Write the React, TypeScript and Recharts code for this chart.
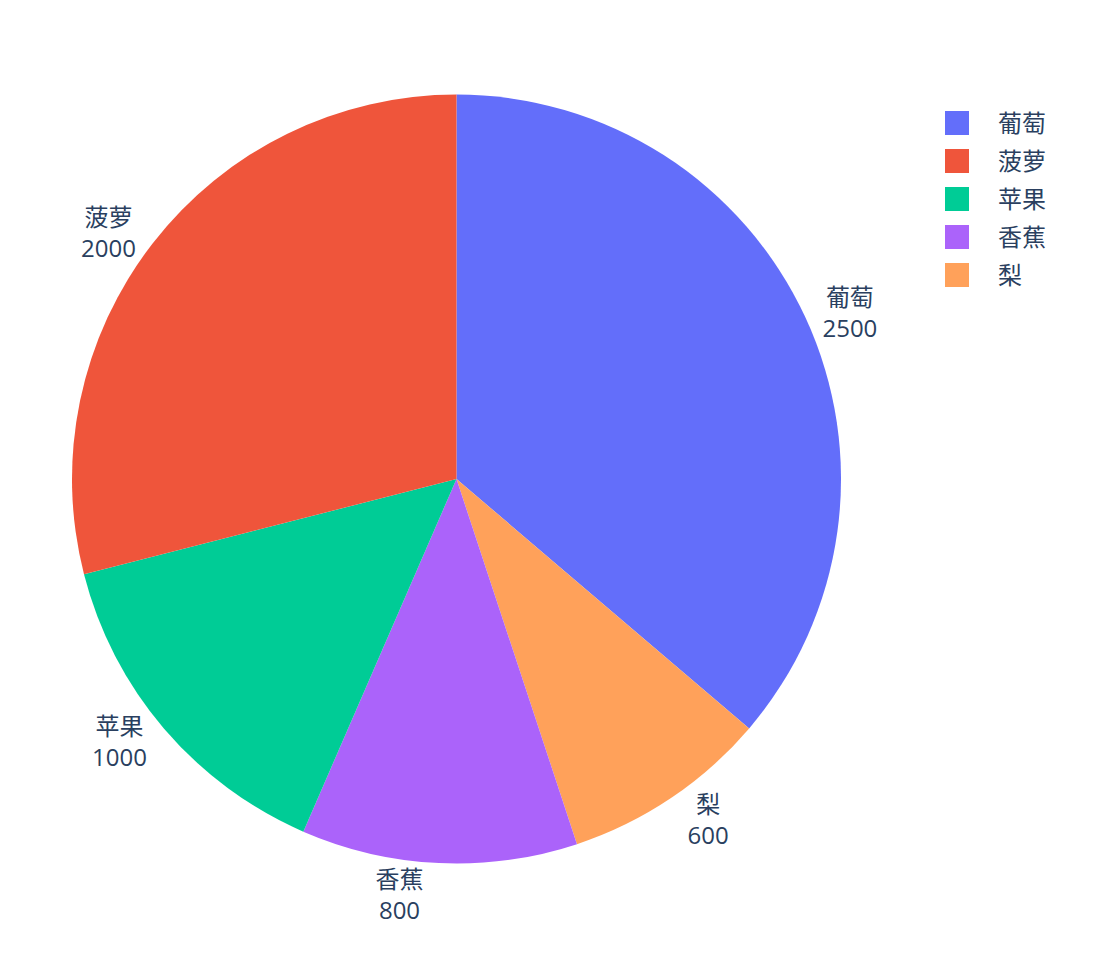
import React from 'react';
import { PieChart, Pie, Cell, Legend } from 'recharts';

// 数据（顺时针，从 12 点钟方向开始）
const fruitNames = ['葡萄', '梨', '香蕉', '苹果', '菠萝'];
const fruitValues = [2500, 600, 800, 1000, 2000];
const fruitColors = ['#636EFA', '#FFA15A', '#AB63FA', '#00CC96', '#EF553B'];

// 图例顺序（按数值降序）
const legendOrder = ['葡萄', '菠萝', '苹果', '香蕉', '梨'];

const pieData = fruitNames.map((name, i) => ({ name, value: fruitValues[i], color: fruitColors[i] }));

const FONT = '"Open Sans", "Noto Sans CJK SC", sans-serif';
const FONT_SIZE = 24;
const LINE_H = 31;
const TEXT_COLOR = '#2a3f5f';
const RADIAN = Math.PI / 180;

const textWidth = (s: string) =>
  s.split('').reduce((w, ch) => w + (/[0-9]/.test(ch) ? 0.6 : 1) * FONT_SIZE, 0);

// plotly 风格的外部标签位置
const renderLabel = (props: any) => {
  const { cx, cy, midAngle, outerRadius, name, value } = props;
  const px = outerRadius * Math.cos(-midAngle * RADIAN);
  const py = outerRadius * Math.sin(-midAngle * RADIAN);
  const w = Math.max(textWidth(String(name)), textWidth(String(value)));
  const h = LINE_H * 2;
  let dx = w / 2;
  let dy = h / 2;
  if (px < 0) dx *= -1;
  if (py < 0) dy *= -1;
  const ox = dx + (Math.abs(dy) * (dx > 0 ? 1 : -1)) / 2;
  const oy = dy / (1 + (px * px) / (py * py));
  const x = cx + px + ox;
  const y = cy + py + oy;
  return (
    <text x={x} y={y} textAnchor="middle" fill={TEXT_COLOR} fontSize={FONT_SIZE} fontFamily={FONT}>
      <tspan x={x} y={y - LINE_H / 2} dominantBaseline="central">{name}</tspan>
      <tspan x={x} y={y + LINE_H / 2} dominantBaseline="central">{value}</tspan>
    </text>
  );
};

const renderLegend = () => (
  <div style={{ fontFamily: FONT, fontSize: FONT_SIZE, color: TEXT_COLOR }}>
    {legendOrder.map((name) => {
      const idx = fruitNames.indexOf(name);
      return (
        <div key={name} style={{ display: 'flex', alignItems: 'center', height: 38 }}>
          <div style={{ width: 24, height: 24, background: fruitColors[idx] }} />
          <span style={{ marginLeft: 29, lineHeight: '38px' }}>{name}</span>
        </div>
      );
    })}
  </div>
);

export default function App() {
  return (
    <div style={{ position: 'absolute', left: 0, top: 0, width: 1106, height: 970, background: '#fff' }}>
      <PieChart width={1106} height={970} margin={{ top: 0, right: 0, bottom: 0, left: 0 }}>
        <Pie
          data={pieData}
          dataKey="value"
          nameKey="name"
          cx={456.5}
          cy={479}
          outerRadius={384.5}
          startAngle={90}
          endAngle={-270}
          stroke="none"
          label={renderLabel}
          labelLine={false}
          isAnimationActive={false}
        >
          {pieData.map((entry, index) => (
            <Cell key={`cell-${index}`} fill={entry.color} />
          ))}
        </Pie>
        <Legend
          content={renderLegend}
          layout="vertical"
          verticalAlign="middle"
          align="right"
          width={150}
          wrapperStyle={{ position: 'absolute', left: 945, top: 104, width: 150 }}
        />
      </PieChart>
    </div>
  );
}
